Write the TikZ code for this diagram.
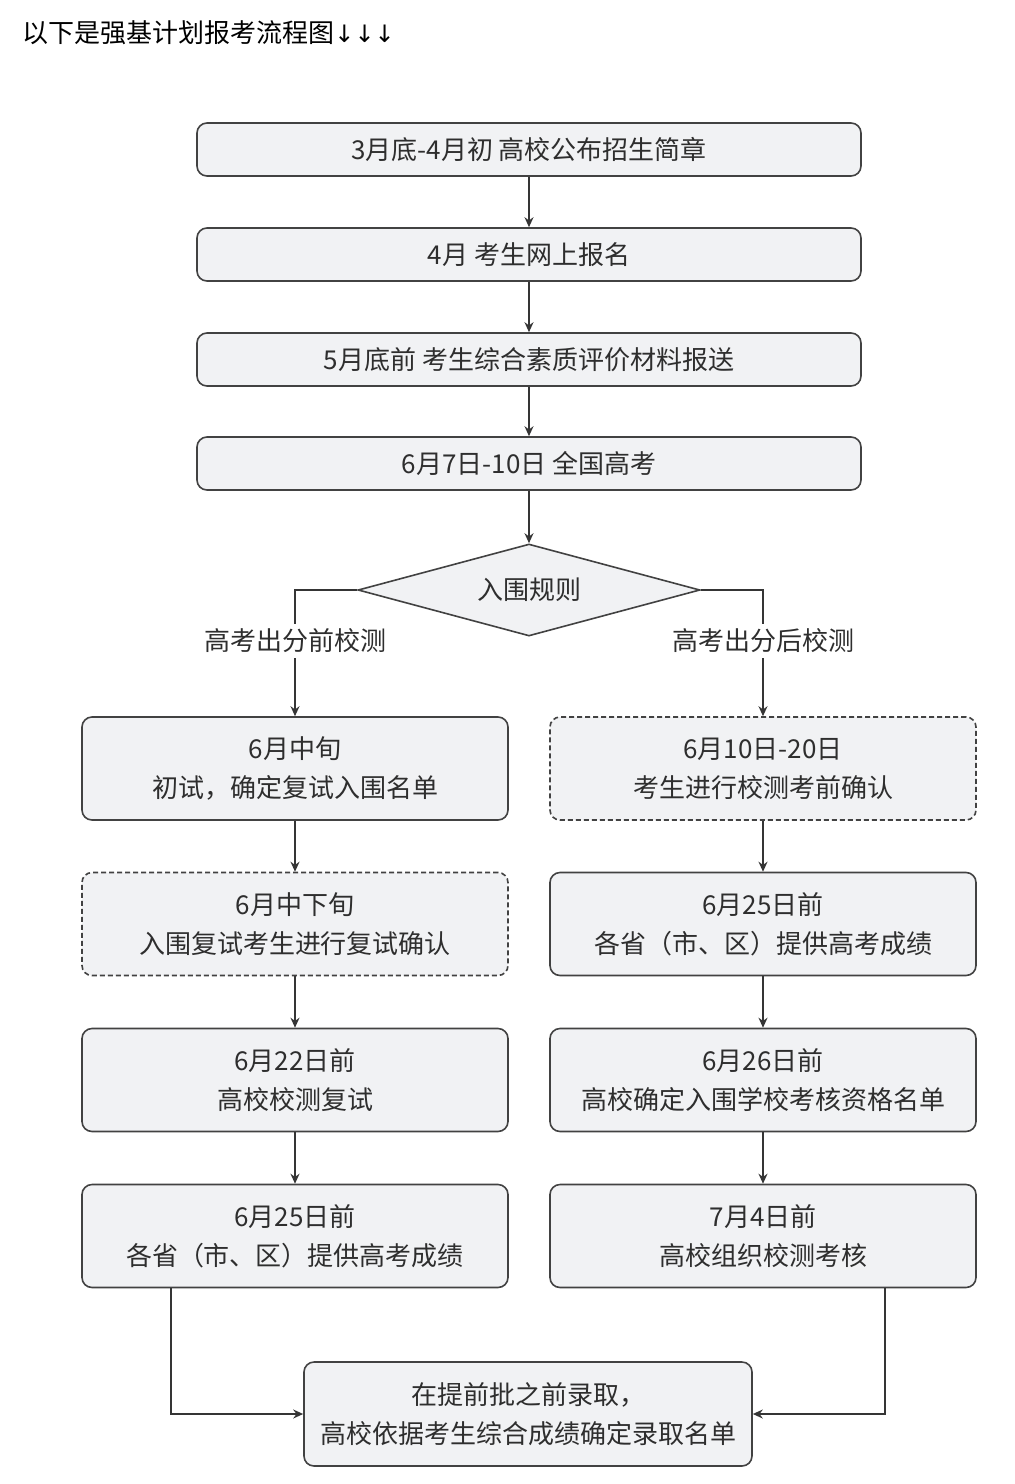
\documentclass[tikz,border=0pt]{standalone}
\usepackage{fontspec}
\setmainfont{Noto Sans CJK SC}
\newfontfamily\arrowfont{DejaVu Sans}
\usetikzlibrary{shapes.geometric,arrows.meta}
\definecolor{boxfill}{HTML}{F1F2F4}
\definecolor{boxline}{HTML}{424242}
\definecolor{txt}{HTML}{2E2E2E}
\begin{document}
\begin{tikzpicture}[x=0.5pt, y=-0.5pt,
                    >={Stealth[length=5pt,width=4.5pt]},
                    every node/.style={text=txt,
                                       font=\fontsize{13}{19.5}\selectfont},
                    box/.style={draw=boxline, fill=boxfill, line width=0.8pt,
                                rounded corners=5pt, align=center, inner sep=0pt},
                    wide/.style={box, minimum width=332pt, minimum height=26.5pt},
                    half/.style={box, minimum width=213pt, minimum height=51.5pt},
                    dashbox/.style={dash pattern=on 2.5pt off 1.5pt},
                    choice/.style={diamond, draw=boxline, fill=boxfill,
                                   line width=0.8pt, aspect=3.7, inner sep=0pt,
                                   minimum width=171pt, minimum height=46pt},
                    branch/.style={fill=white, inner sep=2.5pt},
                    link/.style={draw=boxline!80!black, line width=0.8pt}]
                      \useasboundingbox (0,0) rectangle (1014,1484);

                      \node[anchor=west, inner sep=0pt, text=black, font=\fontsize{13}{16}\selectfont] (title) at (22,33) {以下是强基计划报考流程图{\arrowfont\fontsize{12}{16}\selectfont ↓↓↓}};

                      \node[wide] (t1) at (529,149.5) {3月底-4月初 高校公布招生简章};
                      \node[wide] (t2) at (529,254.5) {4月 考生网上报名};
                      \node[wide] (t3) at (529,359.5) {5月底前 考生综合素质评价材料报送};
                      \node[wide] (t4) at (529,463.5) {6月7日-10日 全国高考};

                      \node[choice] (rule) at (529,590) {入围规则};

                      \node[branch] (lpre) at (295,641) {高考出分前校测};
                      \node[branch] (lpost) at (763,641) {高考出分后校测};

                      \node[half] (pre1) at (295,768.5) {6月中旬\\初试，确定复试入围名单};
                      \node[half, dashbox] (pre2) at (295,924) {6月中下旬\\入围复试考生进行复试确认};
                      \node[half] (pre3) at (295,1080) {6月22日前\\高校校测复试};
                      \node[half] (pre4) at (295,1236) {6月25日前\\各省（市、区）提供高考成绩};

                      \node[half, dashbox] (post1) at (763,768.5) {6月10日-20日\\考生进行校测考前确认};
                      \node[half] (post2) at (763,924) {6月25日前\\各省（市、区）提供高考成绩};
                      \node[half] (post3) at (763,1080) {6月26日前\\高校确定入围学校考核资格名单};
                      \node[half] (post4) at (763,1236) {7月4日前\\高校组织校测考核};

                      \node[box, minimum width=224pt, minimum height=52pt] (fin) at (528,1414) {在提前批之前录取，\\高校依据考生综合成绩确定录取名单};

                      \foreach \i/\j in {t1/t2, t2/t3, t3/t4, t4/rule, lpre/pre1, lpost/post1,
                                         pre1/pre2, pre2/pre3, pre3/pre4,
                                         post1/post2, post2/post3, post3/post4} {
                              \draw[link, ->] (\i) -- (\j);
                          }
                      \draw[link] (rule.west) -| (lpre.north);
                      \draw[link] (rule.east) -| (lpost.north);
                      \draw[link, ->] ([xshift=45pt]pre4.south west) |- (fin.west);
                      \draw[link, ->] ([xshift=-46pt]post4.south east) |- (fin.east);
                  \end{tikzpicture}
\end{document}
